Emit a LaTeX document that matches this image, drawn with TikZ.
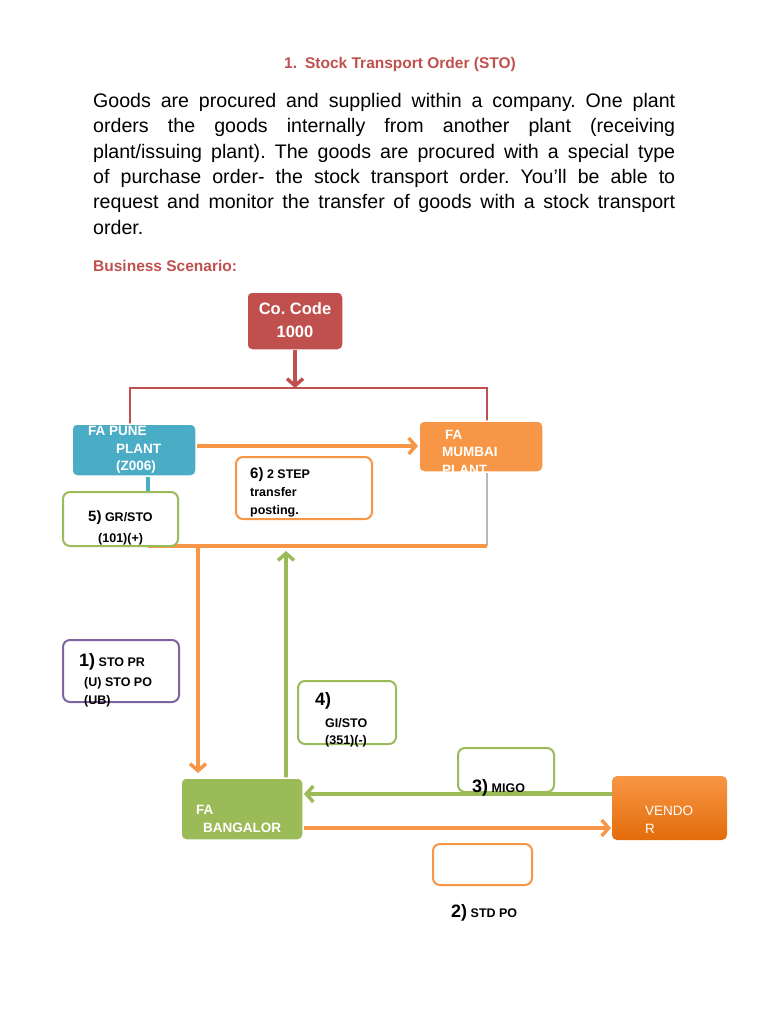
\documentclass[tikz,border=0pt]{standalone}
\usepackage{fontspec}
\setmainfont{Liberation Sans}
\usetikzlibrary{arrows.meta}
\definecolor{cred}{HTML}{C0504D}
\definecolor{cblue}{HTML}{4BACC6}
\definecolor{corange}{HTML}{F79646}
\definecolor{cdorange}{HTML}{E36C09}
\definecolor{cgreen}{HTML}{9BBB59}
\definecolor{cpurple}{HTML}{8064A2}
\definecolor{tred}{HTML}{C0504D}
\frenchspacing
\begin{document}
\begin{tikzpicture}[x=1pt,y=-1pt,
  fbox/.style={rounded corners=5pt,draw=white,line width=1.5pt},
  lbox/.style={rounded corners=7pt,draw,line width=2pt,fill=white},
  wt/.style={text=white,font=\fontsize{13.5}{15}\selectfont\bfseries,anchor=west,inner sep=0},
  bt/.style={text=black,font=\fontsize{12.5}{14}\selectfont\bfseries,anchor=west,inner sep=0},
  arr/.style={line width=3.5pt,-{Straight Barb[length=7pt,width=16pt]}}]
\useasboundingbox (0,0) rectangle (768,1024);
\node[text=tred,font=\fontsize{15.5}{18}\selectfont\bfseries] (title) at (400,64) {1.\hspace{8pt}Stock Transport Order (STO)};
\node[anchor=north west,text width=582pt,align=justify,inner sep=0,font=\fontsize{19.6}{25.4}\selectfont] (para) at (93,93) {Goods are procured and supplied within a company. One plant\linebreak orders the goods internally from another plant (receiving\linebreak plant/issuing plant). The goods are procured with a special type\linebreak of purchase order- the stock transport order. You’ll be able to\linebreak request and monitor the transfer of goods with a stock transport\linebreak order.};
\node[text=tred,font=\fontsize{15.5}{18}\selectfont\bfseries,anchor=west,inner sep=0] (bs) at (93,266) {Business Scenario:};
% company code
\path[fbox,fill=cred] (247,292) rectangle (343,350);
\node[text=white,font=\fontsize{16.5}{23}\selectfont\bfseries,align=center] (cc) at (295,320) {Co. Code\\1000};
\coordinate (ccb) at (295,350);
\coordinate (ccj) at (295,388);
\draw[line width=3.5pt,cred,-{Straight Barb[length=7pt,width=16pt]}] (ccb) -- (ccj);
\coordinate (jl) at (130,388); \coordinate (jr) at (487,388);
\coordinate (pt) at (130,425); \coordinate (mt) at (487,422);
\draw[cred,line width=2pt] (pt) -- (jl) -- (jr) -- (mt);
% blue line & right gray
\coordinate (pb) at (148,476); \coordinate (g5) at (148,493);
\draw[cblue,line width=3.5pt] (pb) -- (g5);
\coordinate (mb) at (487,472); \coordinate (hr) at (487,546); \coordinate (hl) at (148,546);
\draw[gray!55,line width=2.5pt] (mb) -- (hr);
\draw[corange,line width=3.5pt] (hr) -- (hl);
% boxes
\path[fbox,fill=cblue] (72,424) rectangle (196,476);
\node (pune) at (134,450) {};
\begin{scope}\clip (72,424) rectangle (196,476);
\node[wt] at (88,431) {FA PUNE};
\node[wt] at (116,449) {PLANT};
\node[wt] at (116,467) {(Z006)};
\end{scope}
\path[fbox,fill=corange] (419,421) rectangle (543,472);
\node (mum) at (481,446) {};
\begin{scope}\clip (419,421) rectangle (543,472);
\node[wt] at (445,435) {FA};
\node[wt] at (442,452) {MUMBAI};
\node[wt] at (442,470) {PLANT};
\end{scope}
\coordinate (pr) at (197,446); \coordinate (ml) at (418,446);
\draw[arr,corange] (pr) -- (ml);
\path[lbox,draw=corange] (236,457) rectangle (372,519);
\node[bt,align=left,font=\fontsize{12.5}{18}\selectfont\bfseries] (s6) at (250,492) {{\fontsize{15}{18}\selectfont 6)} 2 STEP\\transfer\\posting.};
\path[lbox,draw=cgreen] (63,492) rectangle (178,546);
\node[bt] (s5) at (88,518) {{\fontsize{15}{16}\selectfont 5)} GR/STO};
\node[bt] at (98,539) {(101)(+)};
% verticals
\coordinate (oa) at (198,546); \coordinate (ba) at (198,773);
\draw[arr,corange] (oa) -- (ba);
\coordinate (ga) at (286,778); \coordinate (gb) at (286,551);
\draw[arr,cgreen] (ga) -- (gb);
\path[lbox,draw=cpurple] (63,640) rectangle (179,702);
\node[bt] (s1) at (79,662) {{\fontsize{18}{18}\selectfont 1)} STO PR};
\node[bt] at (84,683) {(U) STO PO};
\node[bt] at (84,701) {(UB)};
\path[lbox,draw=cgreen] (298,681) rectangle (396,744);
\node[bt,font=\fontsize{18}{18}\selectfont\bfseries] (s4) at (315,701) {4)};
\node[bt] at (325,723) {GI/STO};
\node[bt] at (325,741) {(351)(-)};
% bangalore & vendor
\path[fbox,fill=cgreen] (181,778) rectangle (303,840);
\node (bang) at (242,809) {};
\begin{scope}\clip (181,778) rectangle (303,842);
\node[wt] at (196,810) {FA};
\node[wt] at (203,828) {BANGALOR};
\node[wt] at (203,846) {E PLANT};
\end{scope}
\shade[top color=corange,bottom color=cdorange,rounded corners=5pt] (612,776) rectangle (727,840);
\node (vend) at (670,808) {};
\begin{scope}\clip (612,776) rectangle (727,842);
\node[wt,font=\fontsize{13.5}{15}\selectfont] at (645,811) {VENDO};
\node[wt,font=\fontsize{13.5}{15}\selectfont] at (645,829) {R};
\node[wt,font=\fontsize{13.5}{15}\selectfont] at (645,847) {(101046};
\end{scope}
\path[lbox,draw=cgreen] (458,748) rectangle (554,792);
\coordinate (vl) at (612,794); \coordinate (br) at (304,794);
\draw[arr,cgreen] (vl) -- (br);
\node[bt] (s3) at (472,788) {{\fontsize{18}{18}\selectfont 3)} MIGO};
\coordinate (br2) at (304,828); \coordinate (vl2) at (611,828);
\draw[arr,corange] (br2) -- (vl2);
\path[lbox,draw=corange] (433,844) rectangle (532,885);
\node[bt] (s2) at (451,913) {{\fontsize{18}{18}\selectfont 2)} STD PO};
\end{tikzpicture}
\end{document}
